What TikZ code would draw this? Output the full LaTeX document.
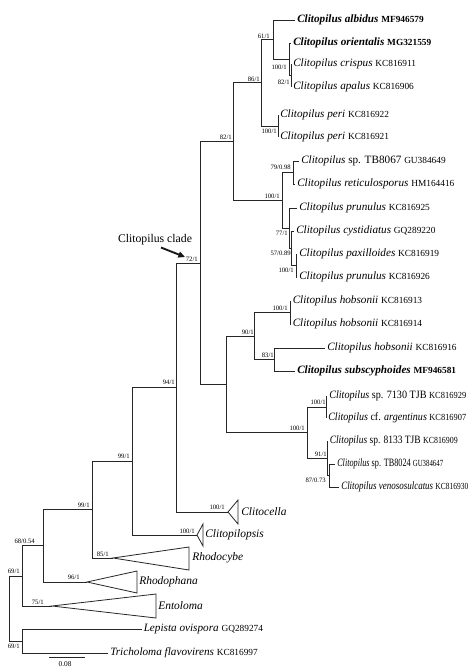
\documentclass[tikz,border=0pt]{standalone}
\usepackage{fontspec}
\setmainfont{Liberation Serif}
\usepackage{graphicx}
\usetikzlibrary{arrows.meta}
\newcommand{\acc}[1]{{\fontsize{7}{8}\selectfont #1}}
\newcommand{\fitw}[2]{\resizebox{\dimexpr #1pt*3/4\relax}{\height}{#2}}
\begin{document}
\begin{tikzpicture}[x=0.75pt,y=-0.75pt,
  br/.style={line width=0.6pt,draw=black!85,line join=miter},
  leaf/.style={anchor=west,inner xsep=1.5pt,inner ysep=0pt,font=\fontsize{8.4}{10}\selectfont},
  clade/.style={anchor=west,inner xsep=1.5pt,inner ysep=0pt,font=\fontsize{8.6}{10}\selectfont\itshape},
  boot/.style={anchor=east,inner sep=0pt,font=\fontsize{5}{6}\selectfont}]
\fill[white] (0,0) rectangle (474,669);
\useasboundingbox (0,0) rectangle (474,669);

% ---------- leaves ----------
\node[leaf] (t1) at (295,20) {\textbf{\textit{Clitopilus albidus} \acc{MF946579}}};
\node[leaf] (t2) at (291,43) {\textbf{\textit{Clitopilus orientalis} \acc{MG321559}}};
\node[leaf] (t3) at (291,64) {\textit{Clitopilus crispus} \acc{KC816911}};
\node[leaf] (t4) at (291,87) {\textit{Clitopilus apalus} \acc{KC816906}};
\node[leaf] (t5) at (278,115) {\textit{Clitopilus peri} \acc{KC816922}};
\node[leaf] (t6) at (278,137) {\textit{Clitopilus peri} \acc{KC816921}};
\node[leaf] (t7) at (299,161) {\textit{Clitopilus} sp. TB8067 \acc{GU384649}};
\node[leaf] (t8) at (295,184) {\textit{Clitopilus reticulosporus} \acc{HM164416}};
\node[leaf] (t9) at (297,208) {\textit{Clitopilus prunulus} \acc{KC816925}};
\node[leaf] (t10) at (294,231) {\textit{Clitopilus cystidiatus} \acc{GQ289220}};
\node[leaf] (t11) at (297,254) {\textit{Clitopilus paxilloides} \acc{KC816919}};
\node[leaf] (t12) at (297,277) {\textit{Clitopilus prunulus} \acc{KC816926}};
\node[leaf] (t13) at (290.5,301) {\textit{Clitopilus hobsonii} \acc{KC816913}};
\node[leaf] (t14) at (290.5,324) {\textit{Clitopilus hobsonii} \acc{KC816914}};
\node[leaf] (t15) at (325,348) {\textit{Clitopilus hobsonii} \acc{KC816916}};
\node[leaf] (t16) at (295,371) {\textbf{\textit{Clitopilus subscyphoides} \acc{MF946581}}};
\node[leaf] (t17) at (327,396) {\fitw{137}{\textit{Clitopilus} sp. 7130 TJB \acc{KC816929}}};
\node[leaf] (t18) at (326,418) {\fitw{138}{\textit{Clitopilus} cf. \textit{argentinus} \acc{KC816907}}};
\node[leaf] (t19) at (327.5,441) {\fitw{128}{\textit{Clitopilus} sp. 8133 TJB \acc{KC816909}}};
\node[leaf] (t20) at (335,464) {\fitw{106}{\textit{Clitopilus} sp. TB8024 \acc{GU384647}}};
\node[leaf] (t21) at (339,487) {\fitw{127}{\textit{Clitopilus venososulcatus} \acc{KC816930}}};
\node[leaf] (t27) at (141.5,629) {\textit{Lepista ovispora} \acc{GQ289274}};
\node[leaf] (t28) at (108,653) {\textit{Tricholoma flavovirens} \acc{KC816997}};

% ---------- collapsed clades ----------
\coordinate (CCap) at (228,512); \coordinate (CCa) at (238,500); \coordinate (CCb) at (238,524);
\coordinate (CPap) at (197,535); \coordinate (CPa) at (203,524); \coordinate (CPb) at (203,546);
\coordinate (RCap) at (113,558); \coordinate (RCa) at (189,547); \coordinate (RCb) at (189,570);
\coordinate (RPap) at (87,582);  \coordinate (RPa) at (137,571); \coordinate (RPb) at (137,593);
\coordinate (ENap) at (52,606);  \coordinate (ENa) at (156,594); \coordinate (ENb) at (156,618);
\draw[br] (CCap) -- (CCa) -- (CCb) -- cycle;
\draw[br] (CPap) -- (CPa) -- (CPb) -- cycle;
\draw[br] (RCap) -- (RCa) -- (RCb) -- cycle;
\draw[br] (RPap) -- (RPa) -- (RPb) -- cycle;
\draw[br] (ENap) -- (ENa) -- (ENb) -- cycle;
\node[clade] (t22) at (239,512) {Clitocella};
\node[clade] (t23) at (203,535) {Clitopilopsis};
\node[clade] (t24) at (190,558) {Rhodocybe};
\node[clade] (t25) at (137,582) {Rhodophana};
\node[clade] (t26) at (156,606) {Entoloma};

% ---------- internal nodes ----------
\coordinate (R) at (9,608.5);
\coordinate (OUT) at (22,641);
\coordinate (ING) at (22,575.9);
\coordinate (N43) at (43,545.8);
\coordinate (N92) at (92,509.6);
\coordinate (N132) at (132,461.25);
\coordinate (N176) at (176,387.5);
\coordinate (CL) at (200,263);
\coordinate (N233) at (233,141.6);
\coordinate (N261) at (261,82.8);
\coordinate (N273) at (273,39.6);
\coordinate (N289) at (289,59.25);
\coordinate (N291) at (291,75.5);
\coordinate (N278) at (278,126);
\coordinate (N282) at (282,200.3);
\coordinate (N293) at (293,172.5);
\coordinate (A) at (289,228.1);
\coordinate (B) at (291,248.25);
\coordinate (C) at (296,265.5);
\coordinate (N226) at (226,384.3);
\coordinate (N254) at (254,336);
\coordinate (N290h) at (290,312.5);
\coordinate (N274) at (274,359.5);
\coordinate (N307) at (307,432.6);
\coordinate (N326) at (326,407);
\coordinate (N327) at (327,458.25);
\coordinate (N329) at (329,475.5);

% ---------- branches ----------
\draw[br] (R) |- (ING);   \draw[br] (R) |- (OUT);
\draw[br] (OUT) |- (t27.west); \draw[br] (OUT) |- (t28.west);
\draw[br] (ING) |- (N43); \draw[br] (ING) |- (ENap);
\draw[br] (N43) |- (N92); \draw[br] (N43) |- (RPap);
\draw[br] (N92) |- (N132); \draw[br] (N92) |- (RCap);
\draw[br] (N132) |- (N176); \draw[br] (N132) |- (CPap);
\draw[br] (N176) |- (CL); \draw[br] (N176) |- (CCap);
\draw[br] (CL) |- (N233); \draw[br] (CL) |- (N226);
\draw[br] (N233) |- (N261); \draw[br] (N233) |- (N282);
\draw[br] (N261) |- (N273); \draw[br] (N261) |- (N278);
\draw[br] (N273) |- (t1.west); \draw[br] (N273) |- (N289);
\draw[br] (N289) |- (t2.west); \draw[br] (N289) |- (N291);
\draw[br] (N291) |- (t3.west); \draw[br] (N291) |- (t4.west);
\draw[br] (N278) |- (t5.west); \draw[br] (N278) |- (t6.west);
\draw[br] (N282) |- (N293); \draw[br] (N282) |- (A);
\draw[br] (N293) |- (t7.west); \draw[br] (N293) |- (t8.west);
\draw[br] (A) |- (t9.west); \draw[br] (A) |- (B);
\draw[br] (B) |- (t10.west); \draw[br] (B) |- (C);
\draw[br] (C) |- (t11.west); \draw[br] (C) |- (t12.west);
\draw[br] (N226) |- (N254); \draw[br] (N226) |- (N307);
\draw[br] (N254) |- (N290h); \draw[br] (N254) |- (N274);
\draw[br] (N290h) |- (t13.west); \draw[br] (N290h) |- (t14.west);
\draw[br] (N274) |- (t15.west); \draw[br] (N274) |- (t16.west);
\draw[br] (N307) |- (N326); \draw[br] (N307) |- (N327);
\draw[br] (N326) |- (t17.west); \draw[br] (N326) |- (t18.west);
\draw[br] (N327) |- (t19.west); \draw[br] (N327) |- (N329);
\draw[br] (N329) |- (t20.west); \draw[br] (N329) |- (t21.west);

% ---------- support values ----------
\node[boot] (b1) at (20,571) {69/1};
\node[boot] (b2) at (35,541) {68/0.54};
\node[boot] (b3) at (20,646) {69/1};
\node[boot] (b4) at (90,505) {99/1};
\node[boot] (b5) at (130,456) {99/1};
\node[boot] (b6) at (175,382) {94/1};
\node[boot] (b7) at (198,259) {72/1};
\node[boot] (b8) at (225,507) {100/1};
\node[boot] (b9) at (195,531) {100/1};
\node[boot] (b10) at (109,554) {85/1};
\node[boot] (b11) at (80,577) {96/1};
\node[boot] (b12) at (44,602) {75/1};
\node[boot] (b13) at (270,36) {61/1};
\node[boot] (b14) at (287,67) {100/1};
\node[boot] (b15) at (290,82) {82/1};
\node[boot] (b16) at (260,79) {86/1};
\node[boot] (b17) at (277,131) {100/1};
\node[boot] (b18) at (232,137) {82/1};
\node[boot] (b19) at (291,167) {79/0.98};
\node[boot] (b20) at (280,196) {100/1};
\node[boot] (b21) at (288,233) {77/1};
\node[boot] (b22) at (291,253) {57/0.89};
\node[boot] (b23) at (294,270) {100/1};
\node[boot] (b24) at (254,332) {90/1};
\node[boot] (b25) at (288,308) {100/1};
\node[boot] (b26) at (274,355) {83/1};
\node[boot] (b27) at (326,402) {100/1};
\node[boot] (b28) at (305,428) {100/1};
\node[boot] (b29) at (327,454) {91/1};
\node[boot] (b30) at (326,480) {87/0.73};

% ---------- clade label and arrow ----------
\node[inner sep=0pt,font=\fontsize{8.8}{10}\selectfont] (cladelab) at (155,240) {Clitopilus clade};
\coordinate (arrtail) at (161,247.5);
\coordinate (arrtip) at (185,257);
\draw[line width=1.4pt,black!90,-{Triangle[length=5pt,width=4.5pt]}] (arrtail) -- (arrtip);

% ---------- scale bar ----------
\coordinate (sb1) at (49,657); \coordinate (sb2) at (85,657);
\draw[br] (sb1) -- (sb2);
\node[inner sep=0pt,font=\fontsize{5.5}{6}\selectfont] (sblab) at (65,664) {0.08};
\end{tikzpicture}
\end{document}
